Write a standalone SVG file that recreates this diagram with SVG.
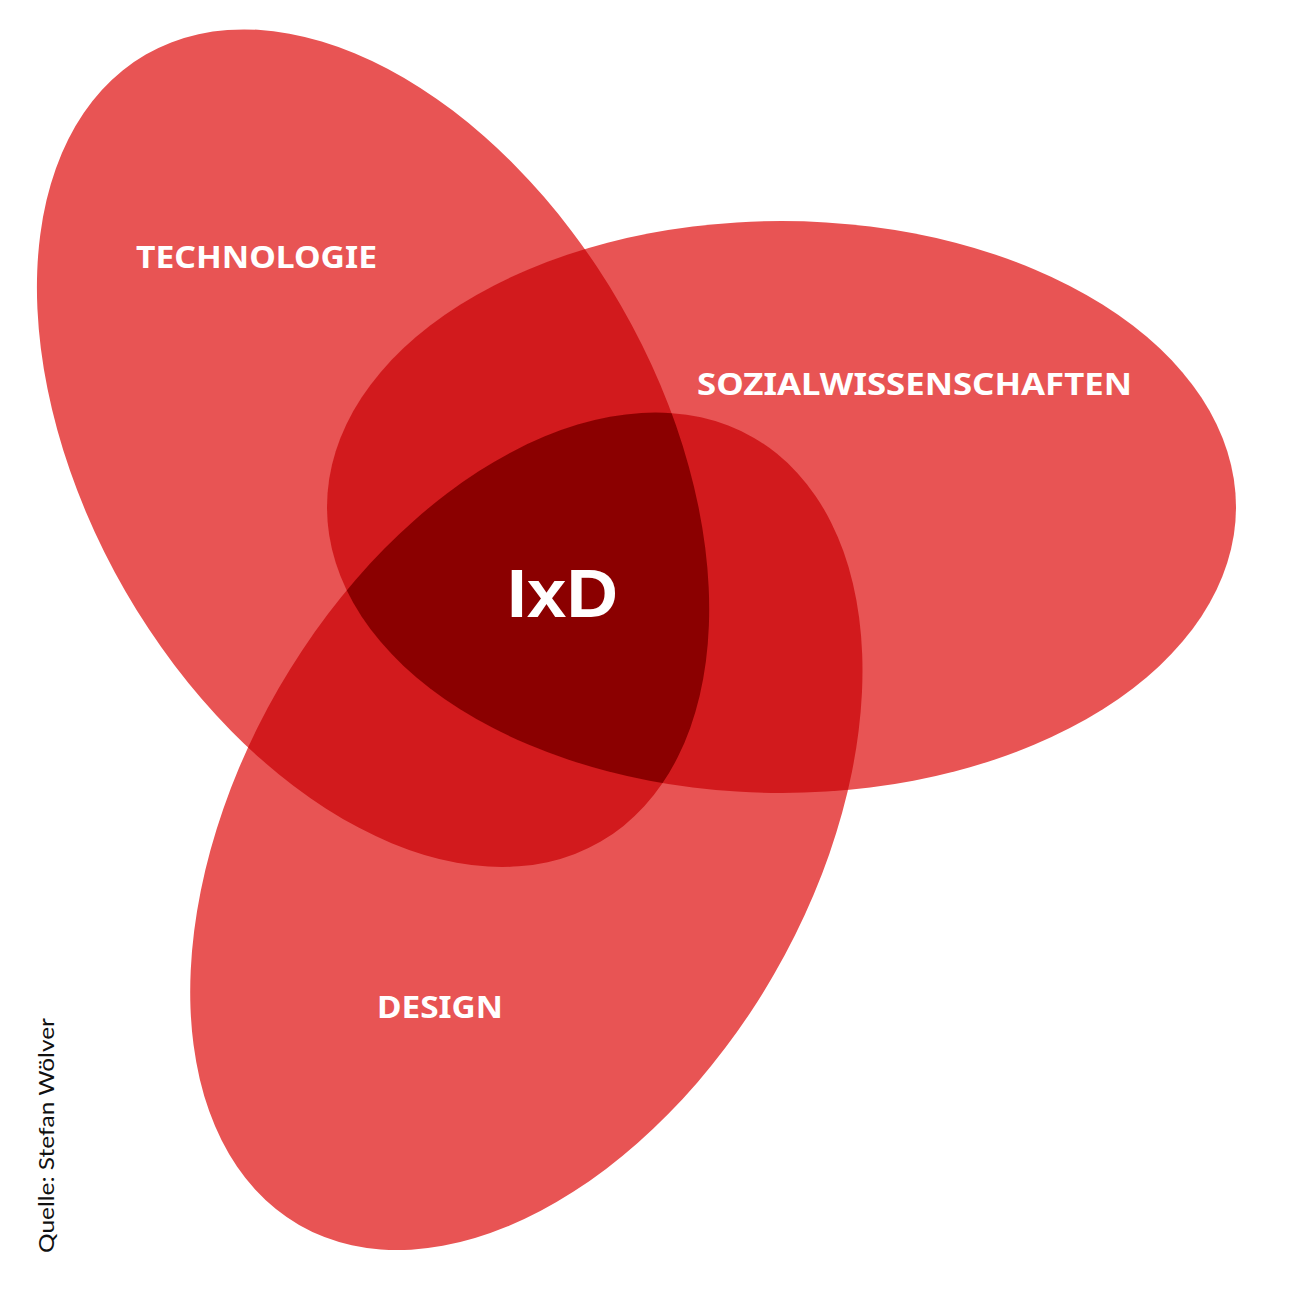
<svg xmlns="http://www.w3.org/2000/svg" xmlns:xlink="http://www.w3.org/1999/xlink" width="1300" height="1290" viewBox="0 0 1300 1290">
  <style>
    .single { fill: #E85454; }
    .double { fill: #D21A1D; }
    .triple { fill: #8B0000; }
    .label { font-family: "Noto Sans", "Liberation Sans", sans-serif; font-weight: 700; fill: #FFFFFF; font-size: 30px; }
    .core { font-family: "Liberation Sans", "Lato", sans-serif; font-weight: 700; fill: #FFFFFF; font-size: 68px; }
    .source { font-family: "Lato", "Liberation Sans", sans-serif; font-weight: 400; fill: #111111; font-size: 21px; }
  </style>
  <defs>
    <ellipse id="eS" cx="781.5" cy="507" rx="454.5" ry="286"/>
    <ellipse id="eD" cx="781.5" cy="507" rx="454.5" ry="286" transform="rotate(120 560.3 595.5)"/>
    <ellipse id="eT" cx="781.5" cy="507" rx="454.5" ry="286" transform="rotate(240 560.3 595.5)"/>
    <clipPath id="cS"><use href="#eS"/></clipPath>
    <clipPath id="cD"><use href="#eD"/></clipPath>
  </defs>
  <rect width="1300" height="1290" fill="#FFFFFF"/>

  <g id="node-technologie">
    <use href="#eT" class="single"/>
    <text class="label" x="136" y="268" textLength="241" lengthAdjust="spacingAndGlyphs">TECHNOLOGIE</text>
  </g>
  <g id="node-sozialwissenschaften">
    <use href="#eS" class="single"/>
    <text class="label" x="697" y="395" textLength="435" lengthAdjust="spacingAndGlyphs">SOZIALWISSENSCHAFTEN</text>
  </g>
  <g id="node-design">
    <use href="#eD" class="single"/>
    <text class="label" x="377" y="1018" textLength="126" lengthAdjust="spacingAndGlyphs">DESIGN</text>
  </g>

  <g id="overlaps">
    <use href="#eT" class="double" clip-path="url(#cS)"/>
    <use href="#eT" class="double" clip-path="url(#cD)"/>
    <use href="#eS" class="double" clip-path="url(#cD)"/>
    <g clip-path="url(#cS)">
      <use href="#eT" class="triple" clip-path="url(#cD)"/>
    </g>
  </g>

  <g id="node-ixd">
    <text class="core" x="507" y="617" textLength="111" lengthAdjust="spacingAndGlyphs">IxD</text>
  </g>

  <g id="source">
    <text class="source" transform="translate(53.5 1253) rotate(-90)" x="0" y="0" textLength="235" lengthAdjust="spacingAndGlyphs">Quelle: Stefan Wölver</text>
  </g>
</svg>
